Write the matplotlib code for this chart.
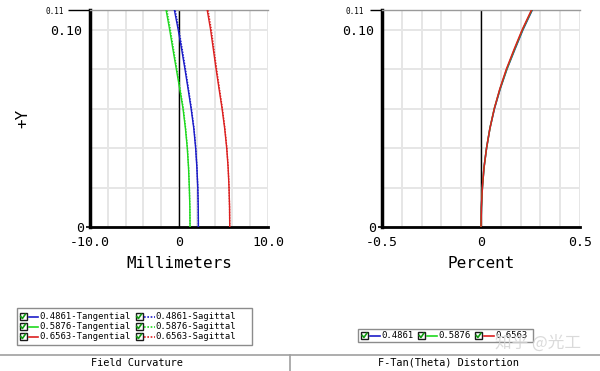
import matplotlib.pyplot as plt
from matplotlib.patches import Rectangle
from matplotlib.lines import Line2D

# wavelengths (um) and their colours
wavelengths = ["0.4861", "0.5876", "0.6563"]
colors = ["#1c1cc8", "#1fd81f", "#dc2020"]

# relative field height
field = [0.0, 0.01, 0.02, 0.03, 0.04, 0.05, 0.06, 0.07, 0.08, 0.09, 0.10, 0.11]

# field curvature, mm
tangential = [
    [2.18, 2.165, 2.11, 2.01, 1.87, 1.66, 1.36, 1.02, 0.67, 0.30, -0.09, -0.52],
    [1.24, 1.22, 1.16, 1.07, 0.93, 0.72, 0.45, 0.08, -0.30, -0.68, -1.05, -1.45],
    [5.70, 5.68, 5.62, 5.52, 5.36, 5.13, 4.84, 4.50, 4.17, 3.86, 3.55, 3.17],
]
sagittal = [
    [2.18, 2.165, 2.115, 2.02, 1.89, 1.69, 1.40, 1.07, 0.73, 0.37, -0.01, -0.43],
    [1.24, 1.22, 1.165, 1.08, 0.95, 0.75, 0.49, 0.13, -0.24, -0.61, -0.97, -1.36],
    [5.70, 5.68, 5.625, 5.53, 5.38, 5.16, 4.88, 4.55, 4.23, 3.93, 3.63, 3.26],
]

# f-tan(theta) distortion, percent
distortion = [
    [0.0, 0.002, 0.007, 0.015, 0.028, 0.045, 0.068, 0.097, 0.131, 0.171, 0.212, 0.259],
    [0.0, 0.002, 0.007, 0.015, 0.028, 0.045, 0.067, 0.096, 0.130, 0.169, 0.210, 0.257],
    [0.0, 0.002, 0.007, 0.015, 0.028, 0.045, 0.067, 0.095, 0.128, 0.167, 0.208, 0.255],
]

fc_grid = [-10, -8, -6, -4, -2, 0, 2, 4, 6, 8, 10]
fc_labels = ["-10.0", "", "", "", "", "0", "", "", "", "", "10.0"]
dist_grid = [-0.5, -0.4, -0.3, -0.2, -0.1, 0, 0.1, 0.2, 0.3, 0.4, 0.5]
dist_labels = ["-0.5", "", "", "", "", "0", "", "", "", "", "0.5"]
y_grid = [0, 0.02, 0.04, 0.06, 0.08, 0.10, 0.11]
y_labels = ["0", "", "", "", "", "0.10", "0.11"]

plt.rcParams["font.family"] = ["DejaVu Sans Mono"]

W, H = 600, 371
fig = plt.figure(figsize=(6, 3.71), dpi=100)


def fx(x):
    return x / W


def fy(y):
    return 1 - y / H


def style_axes(ax, xgrid, xlabels, pads, long_tick):
    ax.set_xlim(xgrid[0], xgrid[-1])
    ax.set_ylim(0, 0.11)
    ax.set_xticks(xgrid)
    ax.set_xticklabels(xlabels)
    ax.set_yticks(y_grid)
    ax.set_yticklabels(y_labels)
    ax.grid(True, color="#e6e6e6", lw=1.4)
    ax.set_axisbelow(True)
    ax.tick_params(axis="x", length=0, pad=6.5, labelsize=9.5)
    ax.tick_params(axis="y", length=3, width=1.2, pad=pads[0], labelsize=9.5)
    ax.spines["right"].set_visible(False)
    ax.spines["top"].set_color("#9a9a9a")
    ax.spines["top"].set_linewidth(1)
    ax.spines["left"].set_linewidth(2.5)
    ax.spines["bottom"].set_linewidth(2)
    ticks = ax.yaxis.get_major_ticks()
    for t in ticks[1:6]:
        t.tick1line.set_visible(False)
    ticks[5].set_pad(pads[1])
    ticks[5].tick1line.set_visible(False)
    ticks[6].set_pad(pads[2])
    ticks[6].tick1line.set_markersize(long_tick)
    ticks[6].tick1line.set_color("#9a9a9a")
    ticks[6].tick1line.set_markeredgewidth(1)
    ticks[6].label1.set_fontsize(5.5)
    ax.axvline(0, color="black", lw=1, zorder=1.5)


ax1 = fig.add_axes([fx(90), fy(227), 178 / W, 217 / H])
ax2 = fig.add_axes([fx(382), fy(227), 198 / W, 217 / H])

for i in range(3):
    ax1.plot(tangential[i], field, color=colors[i], lw=1.0, zorder=3)
    ax1.plot(sagittal[i], field, color=colors[i], lw=1.0, ls=(0, (1, 1)), zorder=3)
    ax2.plot(distortion[i], field, color=colors[i], lw=1.1, zorder=3)

style_axes(ax1, fc_grid, fc_labels, (1, 3, 16), 16)
style_axes(ax2, dist_grid, dist_labels, (1.5, 3, 10), 9)

ax1.set_xlabel("Millimeters", fontsize=11.5)
ax1.xaxis.label.set_va("center")
ax1.xaxis.set_label_coords(0.5, -0.166)
ax1.set_ylabel("+Y", fontsize=11.5)
ax1.yaxis.label.set_va("center")
ax1.yaxis.set_label_coords(-0.375, 0.5)

ax2.set_xlabel("Percent", fontsize=11.5)
ax2.xaxis.label.set_va("center")
ax2.xaxis.set_label_coords(0.5, -0.166)


def checkbox(x, y):
    fig.add_artist(Rectangle((fx(x - 3.5), fy(y + 3.5)), 7 / W, 7 / H,
                             transform=fig.transFigure, facecolor="white",
                             edgecolor="#1a1a1a", lw=1))
    fig.add_artist(Line2D([fx(x - 2.2), fx(x - 0.6), fx(x + 2.3)],
                          [fy(y), fy(y + 2), fy(y - 2.2)],
                          transform=fig.transFigure, color="#139b13", lw=1.2))


def legend_line(x0, x1, y, color, ls="-"):
    fig.add_artist(Line2D([fx(x0), fx(x1)], [fy(y), fy(y)],
                          transform=fig.transFigure, color=color, lw=1.2, ls=ls))


legend_font = dict(fontsize=6.4, va="center", ha="left")

# field curvature legend
fig.add_artist(Rectangle((fx(17), fy(345)), 235 / W, 37 / H, transform=fig.transFigure,
                         facecolor="white", edgecolor="#8c8c8c", lw=1))
rows = [316.5, 326.5, 336.5]
for i, wl in enumerate(wavelengths):
    y = rows[i]
    checkbox(23, y)
    legend_line(29, 38, y, colors[i])
    fig.text(fx(39.5), fy(y), wl + "-Tangential", **legend_font)
    checkbox(139, y)
    legend_line(144, 155, y, colors[i], ls=(0, (1, 1)))
    fig.text(fx(155.5), fy(y), wl + "-Sagittal", **legend_font)

# distortion legend
fig.add_artist(Rectangle((fx(358), fy(342)), 175 / W, 13 / H, transform=fig.transFigure,
                         facecolor="white", edgecolor="#8c8c8c", lw=1))
starts = [361, 418, 475]
for i, wl in enumerate(wavelengths):
    x = starts[i]
    checkbox(x + 3.5, 335.5)
    legend_line(x + 9, x + 19, 335.5, colors[i])
    fig.text(fx(x + 20), fy(335.5), wl, **legend_font)

# watermark
fig.text(fx(538), fy(343), "知乎 @光工", fontsize=12, color="#d4d4d4", alpha=0.85,
         ha="center", va="center", family=["Noto Sans CJK SC", "DejaVu Sans"])

# bottom title bar
fig.add_artist(Line2D([0, 1], [fy(355), fy(355)], transform=fig.transFigure,
                      color="#a0a0a0", lw=1.2))
fig.add_artist(Line2D([fx(290), fx(290)], [fy(355), 0], transform=fig.transFigure,
                      color="#a0a0a0", lw=1.2))
fig.text(fx(137), fy(362.5), "Field Curvature", fontsize=7.4, ha="center", va="center")
fig.text(fx(448), fy(362.5), "F-Tan(Theta) Distortion", fontsize=7.4, ha="center", va="center")

fig.savefig("out.png", dpi=100)
